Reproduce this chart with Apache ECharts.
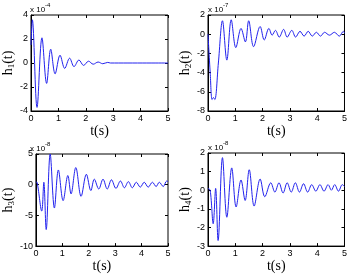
<!DOCTYPE html>
<html>
<head>
<meta charset="utf-8">
<script src="https://cdn.jsdelivr.net/npm/echarts@6/dist/echarts.min.js"></script>
<style>
  html, body { margin: 0; padding: 0; background: #fff; }
  #chart { width: 350px; height: 274px; }
</style>
</head>
<body>
<div id="chart"></div>
<script>
// t(s) ticks
const tTicks = [0, 1, 2, 3, 4, 5];

// values are in units of the exponent shown above each plot
const h1Points = [[0,1.5],[0.05,3.6],[0.22,-3.7],[0.4,2.1],[0.57,-1.7],[0.72,1.15],[0.88,-0.9],[1.06,0.65],[1.23,-0.45],[1.41,0.4],[1.57,-0.3],[1.75,0.25],[1.92,-0.2],[2.1,0.15],[2.27,-0.1],[2.45,0.08],[2.62,-0.06],[2.8,0.05],[2.9,0],[5,0]];
const h2Points = [[0,0],[0.08,-4],[0.15,-6.8],[0.2,-6.6],[0.25,-6.8],[0.38,-3],[0.53,1.4],[0.69,-2.7],[0.85,1.5],[1.02,-1.4],[1.21,0.6],[1.37,-0.8],[1.49,1.4],[1.67,-1.3],[1.91,0.8],[2.06,-0.6],[2.23,0.6],[2.35,-0.1],[2.47,0.4],[2.61,-0.3],[2.77,0.5],[2.9,-0.3],[3.07,0.4],[3.21,-0.3],[3.37,0.3],[3.52,-0.2],[3.67,0.3],[3.82,-0.2],[3.97,0.2],[4.12,-0.2],[4.27,0.2],[4.45,-0.1],[4.63,0.2],[4.81,-0.2],[4.96,0.3],[5,0.1]];
const h3Points = [[0,0.5],[0.05,0.3],[0.22,-4.3],[0.3,0.4],[0.39,-7.3],[0.54,5],[0.7,-3.8],[0.85,2.4],[1.03,-2.6],[1.21,1.5],[1.33,-1.5],[1.51,2.8],[1.71,-1.9],[1.91,1.7],[2.08,-0.95],[2.21,0.9],[2.38,-0.7],[2.54,0.9],[2.7,-0.7],[2.86,0.8],[3.03,-0.6],[3.2,0.6],[3.35,-0.5],[3.5,0.5],[3.65,-0.5],[3.8,0.4],[3.95,-0.4],[4.1,0.4],[4.25,-0.4],[4.41,0.4],[4.55,-0.3],[4.67,0.4],[4.82,-0.3],[4.95,0.6],[5,0.5]];
const h4Points = [[0,0.1],[0.08,0],[0.19,-1.8],[0.28,0.1],[0.37,-2.7],[0.53,1.75],[0.69,-1.45],[0.87,1.2],[1.03,-0.9],[1.21,0.55],[1.36,-0.55],[1.51,1.1],[1.69,-0.85],[1.91,0.6],[2.08,-0.35],[2.3,0.4],[2.45,-0.1],[2.6,0.4],[2.75,-0.15],[2.9,0.4],[3.05,-0.1],[3.2,0.4],[3.35,-0.1],[3.5,0.35],[3.65,-0.1],[3.8,0.3],[3.95,-0.05],[4.1,0.3],[4.25,-0.05],[4.4,0.3],[4.52,0],[4.64,0.3],[4.78,-0.05],[4.92,0.3],[5,0.2]];

// y ranges: [min, max, interval]
const yRanges = [[-4, 4, 2], [-8, 2, 2], [-10, 5, 5], [-3, 2, 1]];
const exponents = ['-4', '-7', '-8', '-8'];
const yNames = ['1', '2', '3', '4'];

const myChart = echarts.init(document.getElementById('chart'));

const grids = [
    { left: 30, top: 15, width: 138, height: 96 },
    { left: 208, top: 15, width: 139, height: 96 },
    { left: 30, top: 154, width: 138, height: 95 },
    { left: 208, top: 153, width: 139, height: 96 }
];
grids.forEach(g => {
    g.show = true;
    g.borderColor = '#000';
    g.borderWidth = 1;
    g.backgroundColor = '#fff';
});

const tickLabel = { color: '#000', fontSize: 9, fontFamily: 'Liberation Sans', margin: 3 };
const xAxes = [];
const yAxes = [];
const seriesList = [];
const allPoints = [h1Points, h2Points, h3Points, h4Points];

for (let i = 0; i < 4; i++) {
    xAxes.push({
        type: 'value', gridIndex: i, min: 0, max: 5, interval: 1,
        position: 'bottom',
        axisLine: { onZero: false, lineStyle: { color: '#000', width: 1 } },
        axisTick: { inside: true, length: 3, lineStyle: { color: '#000' } },
        axisLabel: tickLabel,
        splitLine: { show: false },
        name: 't(s)', nameLocation: 'middle', nameGap: 10,
        nameTextStyle: { color: '#000', fontSize: 14, fontFamily: 'Liberation Serif', verticalAlign: 'top' }
    });
    // top ticks
    xAxes.push({
        type: 'value', gridIndex: i, min: 0, max: 5, interval: 1,
        position: 'top',
        axisLine: { show: false, onZero: false },
        axisTick: { inside: true, length: 3, lineStyle: { color: '#000' } },
        axisLabel: { show: false },
        splitLine: { show: false }
    });
    const r = yRanges[i];
    yAxes.push({
        type: 'value', gridIndex: i, min: r[0], max: r[1], interval: r[2],
        position: 'left',
        axisLine: { show: true, onZero: false, lineStyle: { color: '#000', width: 1 } },
        axisTick: { show: true, inside: true, length: 3, lineStyle: { color: '#000' } },
        axisLabel: tickLabel,
        splitLine: { show: false },
        name: '{n|h}{s|' + yNames[i] + '}{n|(t)}',
        nameLocation: 'middle', nameRotate: 90, nameGap: 15,
        nameTextStyle: {
            rich: {
                n: { color: '#000', fontSize: 14, fontFamily: 'Liberation Serif' },
                s: { color: '#000', fontSize: 9, fontFamily: 'Liberation Serif', verticalAlign: 'bottom', padding: [7, 0, 0, 0] }
            }
        }
    });
    // right ticks
    yAxes.push({
        type: 'value', gridIndex: i, min: r[0], max: r[1], interval: r[2],
        position: 'right',
        axisLine: { show: false, onZero: false },
        axisTick: { show: true, inside: true, length: 3, lineStyle: { color: '#000' } },
        axisLabel: { show: false },
        splitLine: { show: false }
    });
    seriesList.push({
        type: 'line',
        xAxisIndex: i * 2,
        yAxisIndex: i * 2,
        data: allPoints[i],
        smooth: 0.35,
        showSymbol: false,
        lineStyle: { color: '#2222ee', width: 1 }
    });
}

// "x 10^-n" labels above each plot
const graphics = grids.map((g, i) => ({
    type: 'text',
    left: g.left,
    top: g.top - 13,
    style: {
        text: '{a|x 10}{b|' + exponents[i] + '}',
        rich: {
            a: { fontSize: 8, fontFamily: 'Liberation Sans', fill: '#000', padding: [4, 0, 0, 0] },
            b: { fontSize: 6, fontFamily: 'Liberation Sans', fill: '#000', verticalAlign: 'top' }
        }
    }
}));

myChart.setOption({
    animation: false,
    grid: grids,
    xAxis: xAxes,
    yAxis: yAxes,
    series: seriesList,
    graphic: graphics
});
</script>
</body>
</html>
